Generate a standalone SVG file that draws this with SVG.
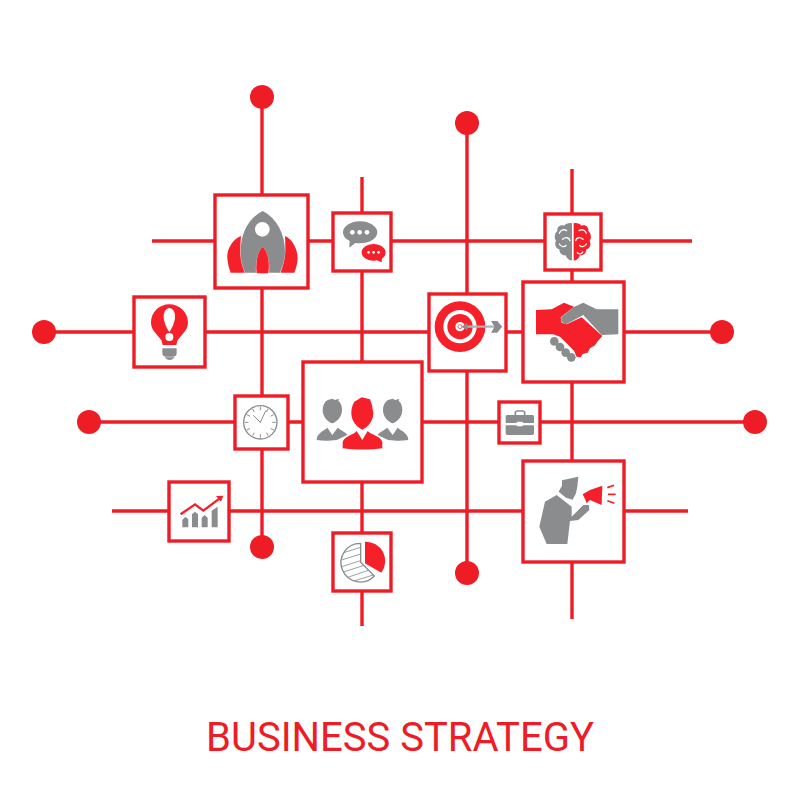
<svg xmlns="http://www.w3.org/2000/svg" width="800" height="800" viewBox="0 0 800 800">
<style>
.l{stroke:#ee1c25;stroke-width:3.400;fill:none}
.d{fill:#ee1c25}
.b{fill:#fff;stroke:#ee1c25;stroke-width:3.400}
.r{fill:#f5202a}
.g{fill:#8a8c8e}
.w{fill:#fff}
.wl{fill:none;stroke:#fff;stroke-width:4;stroke-linecap:round}
.gl{fill:none;stroke:#8a8c8e;stroke-linecap:round}
.t{font-family:Roboto,"Liberation Sans",sans-serif;font-size:40px;fill:#ee1c25;text-anchor:middle}
</style>
<defs>
<clipPath id="pc"><path d="M602 220A58 58 0 1 0 643 318L602 277Z"/></clipPath>
<g id="person"><path d="M0 -72L-14 -68C-24 -62-29-50-29-38C-29-18-14-2 0 2C14-2 29-18 29-38C29-50 26-60 18-65L20-72L8-68Z"/></g>
</defs>
<rect width="800" height="800" fill="#fff"/>
<g id="connectors">
<path class="l" d="M262 97V547M362 177V626M467 123V573M572 169V619M152 241H692M44 332H722M89 422H755M112 511H688"/>
<circle class="d" cx="262" cy="97" r="12"/>
<circle class="d" cx="467" cy="123" r="12"/>
<circle class="d" cx="44" cy="332" r="12"/>
<circle class="d" cx="722" cy="332" r="12"/>
<circle class="d" cx="89" cy="422" r="12"/>
<circle class="d" cx="755" cy="422" r="12"/>
<circle class="d" cx="262" cy="547" r="12"/>
<circle class="d" cx="467" cy="573" r="12"/>
</g>
<g id="rocket">
<rect class="b" x="215" y="195" width="93" height="93"/>
<g transform="translate(130 180) scale(.3333)">
<path class="g" d="M398 93C355 115 332 160 332 215C332 235 335 255 345 278L378 278C376 250 382 215 398 200C414 215 420 250 417 278L450 278C462 250 465 230 465 215C465 160 440 115 398 93Z"/>
<circle class="w" cx="397" cy="148" r="22"/>
<path class="r" d="M398 200C382 215 376 250 380 280L415 280C420 250 414 215 398 200Z"/>
<path class="r" d="M333 168C305 180 290 210 292 235C293 250 297 265 302 278L344 278C335 255 330 235 331 210C331 195 332 180 333 168Z"/>
<path class="r" d="M465 168C490 180 503 210 503 235C503 250 498 265 493 278L452 278C460 255 466 235 466 210C466 195 466 180 465 168Z"/>
</g>
</g>
<g id="chat">
<rect class="b" x="333" y="213" width="58" height="58"/>
<g transform="translate(130 180) scale(.3333)">
<path class="g" d="M690 124C718 124 742 139 742 157C742 176 718 190 690 190C685 190 680 190 676 189L658 203L659 183C647 177 639 168 639 157C639 139 662 124 690 124Z"/>
<circle class="w" cx="667" cy="157" r="7"/><circle class="w" cx="689" cy="157" r="7"/><circle class="w" cx="711" cy="157" r="7"/>
<path class="r" d="M731 192C751 192 767 203 767 217C767 226 762 232 756 236L755 247L741 241C737 242 734 242 731 242C711 242 695 231 695 217C695 203 711 192 731 192Z"/>
<circle class="w" cx="716" cy="217" r="4"/><circle class="w" cx="731" cy="217" r="4"/><circle class="w" cx="746" cy="217" r="4"/>
</g>
</g>
<g id="bulb">
<rect class="b" x="134" y="297" width="71" height="70"/>
<g transform="translate(130 180) scale(.3333)">
<path class="r" d="M118 373C88 373 63 397 63 428C63 452 85 465 95 482L98 495L139 495L142 482C152 465 174 452 174 428C174 397 148 373 118 373Z"/>
<path class="w" d="M118 384C108 384 101 395 101 410C101 425 110 445 118 456C126 445 135 425 135 410C135 395 128 384 118 384Z"/>
<circle class="w" cx="118" cy="471" r="12"/>
<path class="g" d="M97 505H140V520C140 526 136 530 130 530H107C101 530 97 526 97 520Z"/>
<path class="g" d="M104 532H134C130 537 125 540 119 540C113 540 108 537 104 532Z"/>
</g>
</g>
<g id="target">
<rect class="b" x="429" y="294" width="77" height="77"/>
<g transform="translate(420 200) scale(.3333)">
<circle class="r" cx="120" cy="380" r="76"/>
<circle class="w" cx="120" cy="380" r="50"/>
<circle class="r" cx="120" cy="380" r="38"/>
<circle class="w" cx="120" cy="380" r="14"/>
<circle cx="120" cy="380" r="6" fill="none" stroke="#f5202a" stroke-width="2"/>
<path d="M135 380H245" stroke="#b0b2b4" stroke-width="7" fill="none"/>
<path class="g" d="M124 380L142 369V391Z"/>
<path class="g" d="M213 363H232L246 380L232 398H213L224 380Z"/>
</g>
</g>
<g id="brain">
<rect class="b" x="545" y="214" width="56" height="56"/>
<g transform="translate(420 200) scale(.3333)">
<path class="g" d="M456 70C448 67 438 71 432 77C420 72 410 82 412 93C403 100 402 115 408 123C402 133 408 146 418 148C418 160 428 168 437 166C440 175 448 183 456 181Z"/>
<path class="r" d="M461 70C469 67 479 71 485 77C497 72 507 82 505 93C514 100 515 115 509 123C515 133 509 146 499 148C499 160 489 168 480 166C477 175 469 183 461 181Z"/>
<g class="wl"><path d="M418 100C422 90 432 86 440 92"/><path d="M428 118C436 110 448 112 450 122"/><path d="M418 132C424 142 434 142 438 136"/><path d="M499 100C495 90 485 86 477 92"/><path d="M489 118C481 110 469 112 467 122"/><path d="M499 132C493 142 483 142 479 136"/><path d="M472 158C478 164 486 162 488 156"/></g>
</g>
</g>
<g id="handshake">
<rect class="b" x="523" y="282" width="101" height="100"/>
<g transform="translate(420 200) scale(.3333)">
<g class="g"><circle cx="403" cy="424" r="13"/><circle cx="420" cy="441" r="13"/><circle cx="437" cy="458" r="13"/><circle cx="454" cy="472" r="13"/></g>
<path class="r" d="M348 330L395 328L432 308L462 320L422 352L425 368L440 373L485 352L547 408L532 425L525 436L510 445L503 458L488 462L482 472L470 470L462 452L440 430L420 410L400 403L348 403Z"/>
<path class="g" d="M595 328L530 328L490 308L460 322L425 350C420 360 428 372 440 372L490 345L545 405L595 403Z"/>
</g>
</g>
<g id="team">
<rect class="b" x="303" y="362" width="119" height="120"/>
<g transform="translate(225 355) scale(.3333)">
<use href="#person" class="g" transform="translate(322 203)"/>
<use href="#person" class="g" transform="translate(503 203)"/>
<path class="g" d="M275 255C275 235 295 228 307 218L322 240L338 218C345 224 360 230 368 240C350 248 345 250 335 255C310 258 295 258 275 255Z"/>
<path class="g" d="M550 255C550 235 530 228 518 218L503 240L487 218C480 224 465 230 457 240C475 248 480 250 490 255C515 258 530 258 550 255Z"/>
<path d="M340 262C355 240 385 235 392 222H432C440 235 470 240 484 262L484 290H340Z" fill="#fff"/>
<path class="r" d="M353 280V262C355 245 385 240 395 228L412 255L428 228C440 240 470 245 472 262V280C440 285 385 285 353 280Z"/>
<path class="r" d="M388 140L410 127L435 133L441 150L445 175C445 198 428 218 412 224C396 218 379 198 379 175C379 160 382 150 388 140Z"/>
</g>
</g>
<g id="clock">
<rect class="b" x="235" y="396" width="53" height="53"/>
<g transform="translate(225 355) scale(.3333)">
<circle cx="106" cy="202" r="50" fill="#fff" stroke="#8a8c8e" stroke-width="4"/>
<g class="gl" stroke-width="3"><path d="M106 157V165M106 239V247M61 202H69M143 202H151M83.500 163L87 170M128.500 163L125 170M67 179.500L74 183M145 179.500L138 183M67 224.500L74 221M145 224.500L138 221M83.500 241L87 234M128.500 241L125 234"/><path d="M106 202L122 168M106 202L86 182"/></g>
</g>
</g>
<g id="briefcase">
<rect class="b" x="499" y="402" width="41" height="41"/>
<g transform="translate(490 395) scale(.3333)">
<path d="M76 60V53C76 49 79 48 82 48H98C101 48 104 49 104 53V60" fill="none" stroke="#8a8c8e" stroke-width="5"/>
<path class="g" d="M52 60H127C130 60 132 62 132 65V84H47V65C47 62 49 60 52 60Z"/>
<path class="g" d="M47 91H132V115C132 118 130 120 127 120H52C49 120 47 118 47 115Z"/>
<rect class="w" x="80" y="80" width="19" height="14" rx="3"/>
</g>
</g>
<g id="megaphone">
<rect class="b" x="523" y="461" width="101" height="101"/>
<g transform="translate(490 395) scale(.3333)">
<path class="g" d="M216 256L265 245L262 275L258 295L248 314L228 308L206 290L216 272Z"/>
<path class="g" d="M200 300L245 335L245 365L280 330L297 330L298 345L265 375L240 378L232 447H170L148 395L165 320Z"/>
<path class="r" d="M278 298L300 285L337 272L335 330L300 315L290 325L285 312Z"/>
<path d="M352 278L372 271M354 298H377M352 317L373 325" stroke="#f5202a" stroke-width="5" fill="none"/>
</g>
</g>
<g id="chart">
<rect class="b" x="169" y="482" width="60" height="59"/>
<g transform="translate(160 470) scale(.3333)">
<path class="g" d="M67 172V150L76 140L85 148V172ZM96 172V133L105 125L114 133V172ZM125 172V143L134 135L143 143V172ZM155 172V122L173 110V172Z"/>
<path d="M62 133L105 103L130 122L178 86" fill="none" stroke="#f5202a" stroke-width="7"/>
<path class="r" d="M190 77L183 95L168 78Z"/>
</g>
</g>
<g id="pie">
<rect class="b" x="333" y="533" width="58" height="58"/>
<g transform="translate(160 470) scale(.3333)">
<path d="M602 220A58 58 0 1 0 643 318L602 277Z" fill="#fff" stroke="#8a8c8e" stroke-width="4"/>
<path clip-path="url(#pc)" d="M545 250L602 232M545 270L602 252M545 290L602 272M545 308L615 285M555 325L628 300M575 335L640 315" stroke="#8a8c8e" stroke-width="2.500" fill="none"/>
<path class="r" d="M615 215A58 58 0 0 1 664 308L615 280Z"/>
</g>
</g>
<text class="t" x="400" y="751">BUSINESS STRATEGY</text>
</svg>
